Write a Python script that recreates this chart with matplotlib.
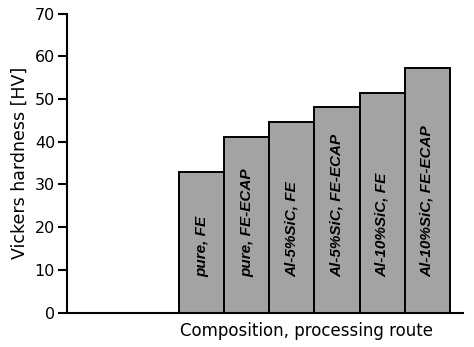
import matplotlib
matplotlib.use("Agg")
import matplotlib.pyplot as plt

# bar labels and hardness values
labels = ["pure, FE", "pure, FE-ECAP", "Al-5%SiC, FE", "Al-5%SiC, FE-ECAP",
          "Al-10%SiC, FE", "Al-10%SiC, FE-ECAP"]
hardness = [33.0, 41.0, 44.5, 48.2, 51.5, 57.3]
yticks = [0, 10, 20, 30, 40, 50, 60, 70]

fig = plt.figure(figsize=(4.74, 3.47), dpi=100)
ax = fig.add_axes([0.141, 0.099, 0.836, 0.862])

pos = list(range(len(hardness)))
ax.bar(pos, hardness, width=1.0, color="#a3a3a3", edgecolor="black", linewidth=1.4)

for x, lab in zip(pos, labels):
    ax.text(x, 8.3, lab, rotation=90, ha="center", va="bottom",
            family="Liberation Sans", fontweight="bold", fontstyle="italic",
            fontsize=11)

ax.set_xlim(-3.0, 5.8)
ax.set_ylim(0, 70)
ax.set_yticks(yticks)
ax.set_xticks([])
ax.spines["top"].set_visible(False)
ax.spines["right"].set_visible(False)
ax.spines["left"].set_linewidth(1.5)
ax.spines["bottom"].set_linewidth(1.5)
ax.tick_params(axis="y", direction="out", length=6.5, width=1.5, labelsize=11.5, pad=2)

ax.set_ylabel("Vickers hardness [HV]", fontsize=12.5, labelpad=4)
ax.set_xlabel("Composition, processing route", fontsize=12, labelpad=4)
ax.xaxis.set_label_coords(0.606, -0.03, transform=ax.transAxes)
ax.xaxis.label.set_va("top")

fig.savefig("out.png", dpi=100)
